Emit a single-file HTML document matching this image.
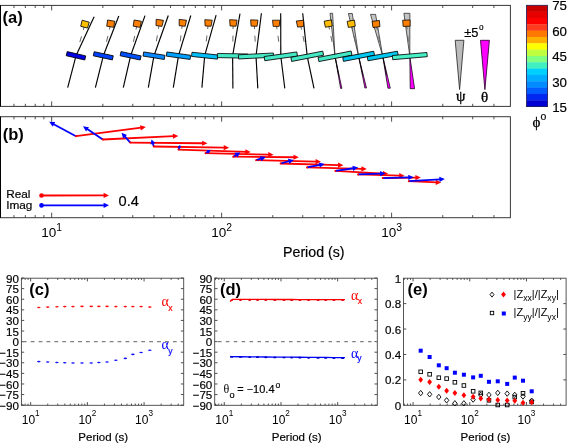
<!DOCTYPE html><html><head><meta charset="utf-8"><style>html,body{margin:0;padding:0;background:#fff;}svg{display:block;will-change:transform;}</style></head><body><svg width="567" height="444" viewBox="0 0 567 444" font-family="Liberation Sans, sans-serif">
<rect x="0" y="0" width="567" height="444" fill="#fff"/>
<g id="panelA">
<polygon points="335.00,56.30 330.00,13.30 332.60,13.30" fill="#c4c4c4" stroke="#1a1a1a" stroke-width="0.7" stroke-linejoin="round"/>
<polygon points="335.00,56.30 340.60,88.40 341.90,88.40" fill="#ff00ff" stroke="#000000" stroke-width="0.7" stroke-linejoin="round"/>
<line x1="335.00" y1="56.30" x2="338.75" y2="75.56" stroke="#000" stroke-width="0.75" />
<polygon points="358.60,56.30 348.40,13.50 352.30,13.50" fill="#c4c4c4" stroke="#1a1a1a" stroke-width="0.7" stroke-linejoin="round"/>
<polygon points="358.60,56.30 364.90,88.00 366.50,88.00" fill="#ff00ff" stroke="#000000" stroke-width="0.7" stroke-linejoin="round"/>
<line x1="358.60" y1="56.30" x2="362.86" y2="75.32" stroke="#000" stroke-width="0.75" />
<polygon points="382.70,56.00 370.50,14.40 375.60,14.40" fill="#c4c4c4" stroke="#1a1a1a" stroke-width="0.7" stroke-linejoin="round"/>
<polygon points="382.70,56.00 387.90,88.20 390.30,88.20" fill="#ff00ff" stroke="#000000" stroke-width="0.7" stroke-linejoin="round"/>
<line x1="382.70" y1="56.00" x2="386.54" y2="75.32" stroke="#000" stroke-width="0.75" />
<polygon points="409.80,56.10 403.90,13.30 409.90,13.30" fill="#c4c4c4" stroke="#1a1a1a" stroke-width="0.7" stroke-linejoin="round"/>
<polygon points="409.80,56.10 410.20,88.70 414.60,88.70" fill="#ff00ff" stroke="#000000" stroke-width="0.7" stroke-linejoin="round"/>
<line x1="84.90" y1="24.20" x2="79.55" y2="43.20" stroke="#666" stroke-width="1.0" stroke-dasharray="6 6.6"/>
<line x1="76.00" y1="55.80" x2="94.10" y2="16.70" stroke="#000" stroke-width="1.15" />
<line x1="76.00" y1="55.80" x2="67.70" y2="87.70" stroke="#000" stroke-width="1.15" />
<line x1="110.70" y1="23.70" x2="106.20" y2="43.20" stroke="#666" stroke-width="1.0" stroke-dasharray="6 6.6"/>
<line x1="103.30" y1="55.80" x2="118.80" y2="16.00" stroke="#000" stroke-width="1.15" />
<line x1="103.30" y1="55.80" x2="95.40" y2="87.70" stroke="#000" stroke-width="1.15" />
<line x1="137.20" y1="23.70" x2="133.19" y2="43.20" stroke="#666" stroke-width="1.0" stroke-dasharray="6 6.6"/>
<line x1="130.60" y1="55.80" x2="145.00" y2="15.60" stroke="#000" stroke-width="1.15" />
<line x1="130.60" y1="55.80" x2="123.30" y2="87.70" stroke="#000" stroke-width="1.15" />
<line x1="159.40" y1="22.90" x2="156.06" y2="43.20" stroke="#666" stroke-width="1.0" stroke-dasharray="6 6.6"/>
<line x1="154.00" y1="55.70" x2="168.30" y2="15.50" stroke="#000" stroke-width="1.15" />
<line x1="154.00" y1="55.70" x2="148.30" y2="87.60" stroke="#000" stroke-width="1.15" />
<line x1="182.50" y1="22.90" x2="180.02" y2="43.20" stroke="#666" stroke-width="1.0" stroke-dasharray="6 6.6"/>
<line x1="178.50" y1="55.70" x2="190.80" y2="15.50" stroke="#000" stroke-width="1.15" />
<line x1="178.50" y1="55.70" x2="173.30" y2="87.60" stroke="#000" stroke-width="1.15" />
<line x1="208.30" y1="23.00" x2="206.08" y2="43.20" stroke="#666" stroke-width="1.0" stroke-dasharray="6 6.6"/>
<line x1="204.70" y1="55.70" x2="216.10" y2="15.20" stroke="#000" stroke-width="1.15" />
<line x1="204.70" y1="55.70" x2="201.90" y2="87.60" stroke="#000" stroke-width="1.15" />
<line x1="233.20" y1="23.00" x2="232.83" y2="43.20" stroke="#666" stroke-width="1.0" stroke-dasharray="6 6.6"/>
<line x1="232.60" y1="55.80" x2="240.00" y2="13.70" stroke="#000" stroke-width="1.15" />
<line x1="232.60" y1="55.80" x2="232.90" y2="88.40" stroke="#000" stroke-width="1.15" />
<line x1="254.20" y1="23.10" x2="255.30" y2="43.20" stroke="#666" stroke-width="1.0" stroke-dasharray="6 6.6"/>
<line x1="256.00" y1="56.00" x2="261.40" y2="13.30" stroke="#000" stroke-width="1.15" />
<line x1="256.00" y1="56.00" x2="257.80" y2="88.40" stroke="#000" stroke-width="1.15" />
<line x1="276.20" y1="23.30" x2="278.97" y2="43.20" stroke="#666" stroke-width="1.0" stroke-dasharray="6 6.6"/>
<line x1="280.80" y1="56.30" x2="280.70" y2="13.30" stroke="#000" stroke-width="1.15" />
<line x1="280.80" y1="56.30" x2="284.80" y2="88.40" stroke="#000" stroke-width="1.15" />
<line x1="300.30" y1="23.70" x2="304.43" y2="43.20" stroke="#666" stroke-width="1.0" stroke-dasharray="6 6.6"/>
<line x1="307.20" y1="56.30" x2="302.70" y2="13.30" stroke="#000" stroke-width="1.15" />
<line x1="307.20" y1="56.30" x2="314.00" y2="88.40" stroke="#000" stroke-width="1.15" />
<line x1="328.30" y1="23.60" x2="332.32" y2="43.20" stroke="#666" stroke-width="1.0" stroke-dasharray="6 6.6"/>
<line x1="351.30" y1="23.80" x2="355.66" y2="43.20" stroke="#666" stroke-width="1.0" stroke-dasharray="6 6.6"/>
<line x1="376.10" y1="24.00" x2="380.06" y2="43.20" stroke="#666" stroke-width="1.0" stroke-dasharray="6 6.6"/>
<line x1="406.50" y1="23.20" x2="408.51" y2="43.20" stroke="#666" stroke-width="1.0" stroke-dasharray="6 6.6"/>
<rect x="-9.50" y="-2.1" width="19.00" height="4.2" fill="#0000e6" stroke="#000" stroke-width="0.8" transform="translate(76.00,55.80) rotate(13)"/>
<rect x="-9.75" y="-2.1" width="19.50" height="4.2" fill="#0040ff" stroke="#000" stroke-width="0.8" transform="translate(103.30,55.80) rotate(12)"/>
<rect x="-10.25" y="-2.1" width="20.50" height="4.2" fill="#0050ff" stroke="#000" stroke-width="0.8" transform="translate(130.60,55.80) rotate(12)"/>
<rect x="-10.75" y="-2.1" width="21.50" height="4.2" fill="#0a88ff" stroke="#000" stroke-width="0.8" transform="translate(154.00,55.70) rotate(9)"/>
<rect x="-12.00" y="-2.1" width="24.00" height="4.2" fill="#00a0ff" stroke="#000" stroke-width="0.8" transform="translate(178.50,55.70) rotate(8)"/>
<rect x="-13.00" y="-2.1" width="26.00" height="4.2" fill="#00bff8" stroke="#000" stroke-width="0.8" transform="translate(204.70,55.70) rotate(6)"/>
<rect x="-15.20" y="-2.1" width="30.40" height="4.2" fill="#44e8c4" stroke="#000" stroke-width="0.8" transform="translate(232.60,55.80) rotate(1)"/>
<rect x="-17.50" y="-2.1" width="35.00" height="4.2" fill="#44e8c4" stroke="#000" stroke-width="0.8" transform="translate(256.00,56.00) rotate(-3)"/>
<rect x="-16.50" y="-2.1" width="33.00" height="4.2" fill="#44e8c4" stroke="#000" stroke-width="0.8" transform="translate(280.80,56.30) rotate(-8)"/>
<rect x="-16.25" y="-2.1" width="32.50" height="4.2" fill="#44e8c4" stroke="#000" stroke-width="0.8" transform="translate(307.20,56.30) rotate(-11)"/>
<rect x="-16.85" y="-2.1" width="33.70" height="4.2" fill="#44e8c4" stroke="#000" stroke-width="0.8" transform="translate(335.00,56.30) rotate(-11)"/>
<rect x="-15.80" y="-2.1" width="31.60" height="4.2" fill="#00c8f0" stroke="#000" stroke-width="0.8" transform="translate(358.60,56.30) rotate(-11)"/>
<rect x="-15.35" y="-2.1" width="30.70" height="4.2" fill="#00c8f0" stroke="#000" stroke-width="0.8" transform="translate(382.70,56.00) rotate(-10.3)"/>
<rect x="-17.35" y="-2.1" width="34.70" height="4.2" fill="#48f0c8" stroke="#000" stroke-width="0.8" transform="translate(409.80,56.10) rotate(-5)"/>
<polygon points="-3.7,-3.1 3.7,-3.1 3.5,3.1 -3.5,3.1" fill="#ffc000" stroke="#000" stroke-width="0.75" transform="translate(84.90,24.20) rotate(15)"/>
<polygon points="-3.7,-3.1 3.7,-3.1 3.5,3.1 -3.5,3.1" fill="#ff8000" stroke="#000" stroke-width="0.75" transform="translate(110.70,23.70) rotate(10)"/>
<polygon points="-3.7,-3.1 3.7,-3.1 3.5,3.1 -3.5,3.1" fill="#ff8000" stroke="#000" stroke-width="0.75" transform="translate(137.20,23.70) rotate(10)"/>
<polygon points="-3.7,-3.1 3.7,-3.1 3.0,3.1 -3.0,3.1" fill="#ff8000" stroke="#000" stroke-width="0.75" transform="translate(159.40,22.90) rotate(8)"/>
<polygon points="-3.7,-3.1 3.7,-3.1 3.0,3.1 -3.0,3.1" fill="#ff8000" stroke="#000" stroke-width="0.75" transform="translate(182.50,22.90) rotate(6)"/>
<polygon points="-3.7,-3.1 3.7,-3.1 3.0,3.1 -3.0,3.1" fill="#ff8000" stroke="#000" stroke-width="0.75" transform="translate(208.30,23.00) rotate(4)"/>
<polygon points="-3.7,-3.1 3.7,-3.1 3.0,3.1 -3.0,3.1" fill="#ff8000" stroke="#000" stroke-width="0.75" transform="translate(233.20,23.00) rotate(3)"/>
<polygon points="-3.7,-3.1 3.7,-3.1 3.0,3.1 -3.0,3.1" fill="#ff8000" stroke="#000" stroke-width="0.75" transform="translate(254.20,23.10) rotate(2)"/>
<polygon points="-3.7,-3.1 3.7,-3.1 3.0,3.1 -3.0,3.1" fill="#ff8000" stroke="#000" stroke-width="0.75" transform="translate(276.20,23.30) rotate(0)"/>
<polygon points="-3.7,-3.1 3.7,-3.1 3.0,3.1 -3.0,3.1" fill="#ff8000" stroke="#000" stroke-width="0.75" transform="translate(300.30,23.70) rotate(-6)"/>
<polygon points="-3.7,-3.1 3.7,-3.1 3.5,3.1 -3.5,3.1" fill="#ffbc00" stroke="#000" stroke-width="0.75" transform="translate(328.30,23.60) rotate(-10)"/>
<polygon points="-3.7,-3.1 3.7,-3.1 3.5,3.1 -3.5,3.1" fill="#ffbc00" stroke="#000" stroke-width="0.75" transform="translate(351.30,23.80) rotate(-10)"/>
<polygon points="-3.7,-3.1 3.7,-3.1 3.5,3.1 -3.5,3.1" fill="#ff8000" stroke="#000" stroke-width="0.75" transform="translate(376.10,24.00) rotate(-7)"/>
<polygon points="-3.7,-3.1 3.7,-3.1 3.5,3.1 -3.5,3.1" fill="#ff8000" stroke="#000" stroke-width="0.75" transform="translate(406.50,23.20) rotate(-2)"/>
</g>
<polygon points="459.60,89.60 455.20,40.30 463.90,40.30" fill="#bcbcbc" stroke="#2a2a2a" stroke-width="0.85" />
<polygon points="484.90,89.60 480.50,40.30 489.40,40.30" fill="#ff00ff" stroke="#300030" stroke-width="0.85" />
<text x="464.20" y="36.60" font-size="12.8" text-anchor="start" fill="#000" font-weight="normal" stroke="#000" stroke-width="0.18" >±5</text>
<text x="478.90" y="30.30" font-size="8.2" text-anchor="start" fill="#000" font-weight="normal" stroke="#000" stroke-width="0.18" >o</text>
<text x="460.60" y="100.60" font-size="15" text-anchor="middle" fill="#000" font-weight="normal"  font-family="Liberation Serif, serif" stroke="#000" stroke-width="0.35">ψ</text>
<text x="484.50" y="101.90" font-size="15" text-anchor="middle" fill="#000" font-weight="normal"  font-family="Liberation Serif, serif" stroke="#000" stroke-width="0.35">θ</text>
<line x1="13.96" y1="106.40" x2="13.96" y2="103.80" stroke="#222" stroke-width="0.8" />
<line x1="13.96" y1="5.40" x2="13.96" y2="8.00" stroke="#222" stroke-width="0.8" />
<line x1="25.34" y1="106.40" x2="25.34" y2="103.80" stroke="#222" stroke-width="0.8" />
<line x1="25.34" y1="5.40" x2="25.34" y2="8.00" stroke="#222" stroke-width="0.8" />
<line x1="35.19" y1="106.40" x2="35.19" y2="103.80" stroke="#222" stroke-width="0.8" />
<line x1="35.19" y1="5.40" x2="35.19" y2="8.00" stroke="#222" stroke-width="0.8" />
<line x1="43.89" y1="106.40" x2="43.89" y2="103.80" stroke="#222" stroke-width="0.8" />
<line x1="43.89" y1="5.40" x2="43.89" y2="8.00" stroke="#222" stroke-width="0.8" />
<line x1="51.67" y1="106.40" x2="51.67" y2="101.40" stroke="#222" stroke-width="0.8" />
<line x1="51.67" y1="5.40" x2="51.67" y2="10.40" stroke="#222" stroke-width="0.8" />
<line x1="102.83" y1="106.40" x2="102.83" y2="103.80" stroke="#222" stroke-width="0.8" />
<line x1="102.83" y1="5.40" x2="102.83" y2="8.00" stroke="#222" stroke-width="0.8" />
<line x1="132.76" y1="106.40" x2="132.76" y2="103.80" stroke="#222" stroke-width="0.8" />
<line x1="132.76" y1="5.40" x2="132.76" y2="8.00" stroke="#222" stroke-width="0.8" />
<line x1="154.00" y1="106.40" x2="154.00" y2="103.80" stroke="#222" stroke-width="0.8" />
<line x1="154.00" y1="5.40" x2="154.00" y2="8.00" stroke="#222" stroke-width="0.8" />
<line x1="170.47" y1="106.40" x2="170.47" y2="103.80" stroke="#222" stroke-width="0.8" />
<line x1="170.47" y1="5.40" x2="170.47" y2="8.00" stroke="#222" stroke-width="0.8" />
<line x1="183.92" y1="106.40" x2="183.92" y2="103.80" stroke="#222" stroke-width="0.8" />
<line x1="183.92" y1="5.40" x2="183.92" y2="8.00" stroke="#222" stroke-width="0.8" />
<line x1="195.30" y1="106.40" x2="195.30" y2="103.80" stroke="#222" stroke-width="0.8" />
<line x1="195.30" y1="5.40" x2="195.30" y2="8.00" stroke="#222" stroke-width="0.8" />
<line x1="205.16" y1="106.40" x2="205.16" y2="103.80" stroke="#222" stroke-width="0.8" />
<line x1="205.16" y1="5.40" x2="205.16" y2="8.00" stroke="#222" stroke-width="0.8" />
<line x1="213.85" y1="106.40" x2="213.85" y2="103.80" stroke="#222" stroke-width="0.8" />
<line x1="213.85" y1="5.40" x2="213.85" y2="8.00" stroke="#222" stroke-width="0.8" />
<line x1="221.63" y1="106.40" x2="221.63" y2="101.40" stroke="#222" stroke-width="0.8" />
<line x1="221.63" y1="5.40" x2="221.63" y2="10.40" stroke="#222" stroke-width="0.8" />
<line x1="272.80" y1="106.40" x2="272.80" y2="103.80" stroke="#222" stroke-width="0.8" />
<line x1="272.80" y1="5.40" x2="272.80" y2="8.00" stroke="#222" stroke-width="0.8" />
<line x1="302.73" y1="106.40" x2="302.73" y2="103.80" stroke="#222" stroke-width="0.8" />
<line x1="302.73" y1="5.40" x2="302.73" y2="8.00" stroke="#222" stroke-width="0.8" />
<line x1="323.96" y1="106.40" x2="323.96" y2="103.80" stroke="#222" stroke-width="0.8" />
<line x1="323.96" y1="5.40" x2="323.96" y2="8.00" stroke="#222" stroke-width="0.8" />
<line x1="340.43" y1="106.40" x2="340.43" y2="103.80" stroke="#222" stroke-width="0.8" />
<line x1="340.43" y1="5.40" x2="340.43" y2="8.00" stroke="#222" stroke-width="0.8" />
<line x1="353.89" y1="106.40" x2="353.89" y2="103.80" stroke="#222" stroke-width="0.8" />
<line x1="353.89" y1="5.40" x2="353.89" y2="8.00" stroke="#222" stroke-width="0.8" />
<line x1="365.27" y1="106.40" x2="365.27" y2="103.80" stroke="#222" stroke-width="0.8" />
<line x1="365.27" y1="5.40" x2="365.27" y2="8.00" stroke="#222" stroke-width="0.8" />
<line x1="375.13" y1="106.40" x2="375.13" y2="103.80" stroke="#222" stroke-width="0.8" />
<line x1="375.13" y1="5.40" x2="375.13" y2="8.00" stroke="#222" stroke-width="0.8" />
<line x1="383.82" y1="106.40" x2="383.82" y2="103.80" stroke="#222" stroke-width="0.8" />
<line x1="383.82" y1="5.40" x2="383.82" y2="8.00" stroke="#222" stroke-width="0.8" />
<line x1="391.60" y1="106.40" x2="391.60" y2="101.40" stroke="#222" stroke-width="0.8" />
<line x1="391.60" y1="5.40" x2="391.60" y2="10.40" stroke="#222" stroke-width="0.8" />
<line x1="442.76" y1="106.40" x2="442.76" y2="103.80" stroke="#222" stroke-width="0.8" />
<line x1="442.76" y1="5.40" x2="442.76" y2="8.00" stroke="#222" stroke-width="0.8" />
<line x1="472.69" y1="106.40" x2="472.69" y2="103.80" stroke="#222" stroke-width="0.8" />
<line x1="472.69" y1="5.40" x2="472.69" y2="8.00" stroke="#222" stroke-width="0.8" />
<line x1="493.93" y1="106.40" x2="493.93" y2="103.80" stroke="#222" stroke-width="0.8" />
<line x1="493.93" y1="5.40" x2="493.93" y2="8.00" stroke="#222" stroke-width="0.8" />
<rect x="0.50" y="5.40" width="509.90" height="101.00" fill="none" stroke="#383838" stroke-width="1.0" />
<line x1="13.96" y1="217.70" x2="13.96" y2="215.10" stroke="#222" stroke-width="0.8" />
<line x1="13.96" y1="116.70" x2="13.96" y2="119.30" stroke="#222" stroke-width="0.8" />
<line x1="25.34" y1="217.70" x2="25.34" y2="215.10" stroke="#222" stroke-width="0.8" />
<line x1="25.34" y1="116.70" x2="25.34" y2="119.30" stroke="#222" stroke-width="0.8" />
<line x1="35.19" y1="217.70" x2="35.19" y2="215.10" stroke="#222" stroke-width="0.8" />
<line x1="35.19" y1="116.70" x2="35.19" y2="119.30" stroke="#222" stroke-width="0.8" />
<line x1="43.89" y1="217.70" x2="43.89" y2="215.10" stroke="#222" stroke-width="0.8" />
<line x1="43.89" y1="116.70" x2="43.89" y2="119.30" stroke="#222" stroke-width="0.8" />
<line x1="51.67" y1="217.70" x2="51.67" y2="212.70" stroke="#222" stroke-width="0.8" />
<line x1="51.67" y1="116.70" x2="51.67" y2="121.70" stroke="#222" stroke-width="0.8" />
<line x1="102.83" y1="217.70" x2="102.83" y2="215.10" stroke="#222" stroke-width="0.8" />
<line x1="102.83" y1="116.70" x2="102.83" y2="119.30" stroke="#222" stroke-width="0.8" />
<line x1="132.76" y1="217.70" x2="132.76" y2="215.10" stroke="#222" stroke-width="0.8" />
<line x1="132.76" y1="116.70" x2="132.76" y2="119.30" stroke="#222" stroke-width="0.8" />
<line x1="154.00" y1="217.70" x2="154.00" y2="215.10" stroke="#222" stroke-width="0.8" />
<line x1="154.00" y1="116.70" x2="154.00" y2="119.30" stroke="#222" stroke-width="0.8" />
<line x1="170.47" y1="217.70" x2="170.47" y2="215.10" stroke="#222" stroke-width="0.8" />
<line x1="170.47" y1="116.70" x2="170.47" y2="119.30" stroke="#222" stroke-width="0.8" />
<line x1="183.92" y1="217.70" x2="183.92" y2="215.10" stroke="#222" stroke-width="0.8" />
<line x1="183.92" y1="116.70" x2="183.92" y2="119.30" stroke="#222" stroke-width="0.8" />
<line x1="195.30" y1="217.70" x2="195.30" y2="215.10" stroke="#222" stroke-width="0.8" />
<line x1="195.30" y1="116.70" x2="195.30" y2="119.30" stroke="#222" stroke-width="0.8" />
<line x1="205.16" y1="217.70" x2="205.16" y2="215.10" stroke="#222" stroke-width="0.8" />
<line x1="205.16" y1="116.70" x2="205.16" y2="119.30" stroke="#222" stroke-width="0.8" />
<line x1="213.85" y1="217.70" x2="213.85" y2="215.10" stroke="#222" stroke-width="0.8" />
<line x1="213.85" y1="116.70" x2="213.85" y2="119.30" stroke="#222" stroke-width="0.8" />
<line x1="221.63" y1="217.70" x2="221.63" y2="212.70" stroke="#222" stroke-width="0.8" />
<line x1="221.63" y1="116.70" x2="221.63" y2="121.70" stroke="#222" stroke-width="0.8" />
<line x1="272.80" y1="217.70" x2="272.80" y2="215.10" stroke="#222" stroke-width="0.8" />
<line x1="272.80" y1="116.70" x2="272.80" y2="119.30" stroke="#222" stroke-width="0.8" />
<line x1="302.73" y1="217.70" x2="302.73" y2="215.10" stroke="#222" stroke-width="0.8" />
<line x1="302.73" y1="116.70" x2="302.73" y2="119.30" stroke="#222" stroke-width="0.8" />
<line x1="323.96" y1="217.70" x2="323.96" y2="215.10" stroke="#222" stroke-width="0.8" />
<line x1="323.96" y1="116.70" x2="323.96" y2="119.30" stroke="#222" stroke-width="0.8" />
<line x1="340.43" y1="217.70" x2="340.43" y2="215.10" stroke="#222" stroke-width="0.8" />
<line x1="340.43" y1="116.70" x2="340.43" y2="119.30" stroke="#222" stroke-width="0.8" />
<line x1="353.89" y1="217.70" x2="353.89" y2="215.10" stroke="#222" stroke-width="0.8" />
<line x1="353.89" y1="116.70" x2="353.89" y2="119.30" stroke="#222" stroke-width="0.8" />
<line x1="365.27" y1="217.70" x2="365.27" y2="215.10" stroke="#222" stroke-width="0.8" />
<line x1="365.27" y1="116.70" x2="365.27" y2="119.30" stroke="#222" stroke-width="0.8" />
<line x1="375.13" y1="217.70" x2="375.13" y2="215.10" stroke="#222" stroke-width="0.8" />
<line x1="375.13" y1="116.70" x2="375.13" y2="119.30" stroke="#222" stroke-width="0.8" />
<line x1="383.82" y1="217.70" x2="383.82" y2="215.10" stroke="#222" stroke-width="0.8" />
<line x1="383.82" y1="116.70" x2="383.82" y2="119.30" stroke="#222" stroke-width="0.8" />
<line x1="391.60" y1="217.70" x2="391.60" y2="212.70" stroke="#222" stroke-width="0.8" />
<line x1="391.60" y1="116.70" x2="391.60" y2="121.70" stroke="#222" stroke-width="0.8" />
<line x1="442.76" y1="217.70" x2="442.76" y2="215.10" stroke="#222" stroke-width="0.8" />
<line x1="442.76" y1="116.70" x2="442.76" y2="119.30" stroke="#222" stroke-width="0.8" />
<line x1="472.69" y1="217.70" x2="472.69" y2="215.10" stroke="#222" stroke-width="0.8" />
<line x1="472.69" y1="116.70" x2="472.69" y2="119.30" stroke="#222" stroke-width="0.8" />
<line x1="493.93" y1="217.70" x2="493.93" y2="215.10" stroke="#222" stroke-width="0.8" />
<line x1="493.93" y1="116.70" x2="493.93" y2="119.30" stroke="#222" stroke-width="0.8" />
<rect x="0.50" y="116.70" width="509.90" height="101.00" fill="none" stroke="#383838" stroke-width="1.0" />
<line x1="0.50" y1="5.40" x2="0.50" y2="106.40" stroke="#000" stroke-width="1.0" />
<line x1="0.50" y1="116.70" x2="0.50" y2="217.70" stroke="#000" stroke-width="1.0" />
<text x="2.60" y="22.50" font-size="16.5" text-anchor="start" fill="#000" font-weight="bold"  >(a)</text>
<text x="2.80" y="140.20" font-size="16.5" text-anchor="start" fill="#000" font-weight="bold"  >(b)</text>
<text x="51.67" y="237.00" font-size="13.5" text-anchor="middle">10<tspan font-size="10.3" dy="-6.1">1</tspan></text>
<text x="221.63" y="237.00" font-size="13.5" text-anchor="middle">10<tspan font-size="10.3" dy="-6.1">2</tspan></text>
<text x="391.60" y="237.00" font-size="13.5" text-anchor="middle">10<tspan font-size="10.3" dy="-6.1">3</tspan></text>
<text x="313.80" y="256.90" font-size="14.2" text-anchor="middle" fill="#000" font-weight="normal" stroke="#000" stroke-width="0.18" >Period (s)</text>
<rect x="526.6" y="5.30" width="21.00" height="6.63" fill="#c80000"/>
<rect x="526.6" y="11.63" width="21.00" height="6.63" fill="#e60000"/>
<rect x="526.6" y="17.96" width="21.00" height="6.63" fill="#ff0000"/>
<rect x="526.6" y="24.29" width="21.00" height="6.63" fill="#ff3c20"/>
<rect x="526.6" y="30.62" width="21.00" height="6.63" fill="#ff7800"/>
<rect x="526.6" y="36.96" width="21.00" height="6.63" fill="#ffb000"/>
<rect x="526.6" y="43.29" width="21.00" height="6.63" fill="#ffff00"/>
<rect x="526.6" y="49.62" width="21.00" height="6.63" fill="#c0ff40"/>
<rect x="526.6" y="55.95" width="21.00" height="6.63" fill="#80ff80"/>
<rect x="526.6" y="62.28" width="21.00" height="6.63" fill="#40f0c0"/>
<rect x="526.6" y="68.61" width="21.00" height="6.63" fill="#00d0ff"/>
<rect x="526.6" y="74.94" width="21.00" height="6.63" fill="#00acff"/>
<rect x="526.6" y="81.27" width="21.00" height="6.63" fill="#008cff"/>
<rect x="526.6" y="87.61" width="21.00" height="6.63" fill="#005cff"/>
<rect x="526.6" y="93.94" width="21.00" height="6.63" fill="#0026f0"/>
<rect x="526.6" y="100.27" width="21.00" height="6.63" fill="#0000d0"/>
<rect x="526.60" y="5.30" width="21.00" height="101.30" fill="none" stroke="#1a1a50" stroke-width="0.8" />
<text x="552.20" y="10.05" font-size="13.3" text-anchor="start" fill="#000" font-weight="normal" stroke="#000" stroke-width="0.18" >75</text>
<text x="552.20" y="35.75" font-size="13.3" text-anchor="start" fill="#000" font-weight="normal" stroke="#000" stroke-width="0.18" >60</text>
<text x="552.20" y="61.35" font-size="13.3" text-anchor="start" fill="#000" font-weight="normal" stroke="#000" stroke-width="0.18" >45</text>
<text x="552.20" y="86.75" font-size="13.3" text-anchor="start" fill="#000" font-weight="normal" stroke="#000" stroke-width="0.18" >30</text>
<text x="552.20" y="112.15" font-size="13.3" text-anchor="start" fill="#000" font-weight="normal" stroke="#000" stroke-width="0.18" >15</text>
<text x="536.50" y="126.60" font-size="15" text-anchor="middle" fill="#000" font-weight="normal"  font-family="Liberation Serif, serif" stroke="#000" stroke-width="0.3">ϕ</text>
<text x="540.40" y="119.60" font-size="10.5" text-anchor="start" fill="#000" font-weight="normal" stroke="#000" stroke-width="0.18" >o</text>
<line x1="76.00" y1="136.20" x2="141.24" y2="127.69" stroke="#ff0000" stroke-width="1.8" />
<polygon points="145.80,127.10 140.78,130.38 140.11,125.22" fill="#ff0000" stroke="none" stroke-width="1" />
<line x1="102.80" y1="139.50" x2="173.71" y2="136.12" stroke="#ff0000" stroke-width="1.8" />
<polygon points="178.30,135.90 173.03,138.75 172.78,133.56" fill="#ff0000" stroke="none" stroke-width="1" />
<line x1="130.30" y1="142.60" x2="202.90" y2="143.26" stroke="#ff0000" stroke-width="1.8" />
<polygon points="207.50,143.30 202.08,145.85 202.12,140.65" fill="#ff0000" stroke="none" stroke-width="1" />
<line x1="153.80" y1="146.50" x2="224.50" y2="147.63" stroke="#ff0000" stroke-width="1.8" />
<polygon points="229.10,147.70 223.66,150.21 223.74,145.01" fill="#ff0000" stroke="none" stroke-width="1" />
<line x1="178.50" y1="149.60" x2="246.10" y2="151.94" stroke="#ff0000" stroke-width="1.8" />
<polygon points="250.70,152.10 245.21,154.51 245.39,149.31" fill="#ff0000" stroke="none" stroke-width="1" />
<line x1="205.50" y1="153.20" x2="269.00" y2="154.69" stroke="#ff0000" stroke-width="1.8" />
<polygon points="273.60,154.80 268.14,157.27 268.26,152.07" fill="#ff0000" stroke="none" stroke-width="1" />
<line x1="233.20" y1="156.70" x2="294.30" y2="157.26" stroke="#ff0000" stroke-width="1.8" />
<polygon points="298.90,157.30 293.48,159.85 293.52,154.65" fill="#ff0000" stroke="none" stroke-width="1" />
<line x1="256.10" y1="160.20" x2="316.40" y2="161.69" stroke="#ff0000" stroke-width="1.8" />
<polygon points="321.00,161.80 315.54,164.27 315.67,159.07" fill="#ff0000" stroke="none" stroke-width="1" />
<line x1="280.60" y1="163.50" x2="338.80" y2="165.17" stroke="#ff0000" stroke-width="1.8" />
<polygon points="343.40,165.30 337.93,167.74 338.08,162.55" fill="#ff0000" stroke="none" stroke-width="1" />
<line x1="307.00" y1="167.40" x2="362.20" y2="168.97" stroke="#ff0000" stroke-width="1.8" />
<polygon points="366.80,169.10 361.33,171.55 361.48,166.35" fill="#ff0000" stroke="none" stroke-width="1" />
<line x1="335.30" y1="170.90" x2="383.71" y2="173.55" stroke="#ff0000" stroke-width="1.8" />
<polygon points="388.30,173.80 382.77,176.10 383.05,170.91" fill="#ff0000" stroke="none" stroke-width="1" />
<line x1="358.00" y1="174.40" x2="400.00" y2="175.66" stroke="#ff0000" stroke-width="1.8" />
<polygon points="404.60,175.80 399.12,178.24 399.28,173.04" fill="#ff0000" stroke="none" stroke-width="1" />
<line x1="382.70" y1="178.10" x2="416.20" y2="177.66" stroke="#ff0000" stroke-width="1.8" />
<polygon points="420.80,177.60 415.43,180.27 415.37,175.07" fill="#ff0000" stroke="none" stroke-width="1" />
<line x1="408.80" y1="181.20" x2="436.60" y2="182.40" stroke="#ff0000" stroke-width="1.8" />
<polygon points="441.20,182.60 435.69,184.96 435.92,179.77" fill="#ff0000" stroke="none" stroke-width="1" />
<line x1="76.00" y1="136.20" x2="53.25" y2="123.98" stroke="#0000ff" stroke-width="1.8" />
<polygon points="49.20,121.80 55.19,122.07 52.73,126.65" fill="#0000ff" stroke="none" stroke-width="1" />
<line x1="102.80" y1="139.50" x2="86.83" y2="128.85" stroke="#0000ff" stroke-width="1.8" />
<polygon points="83.00,126.30 88.94,127.13 86.05,131.46" fill="#0000ff" stroke="none" stroke-width="1" />
<line x1="130.30" y1="142.60" x2="124.56" y2="136.14" stroke="#0000ff" stroke-width="1.8" />
<polygon points="121.50,132.70 127.03,135.01 123.14,138.46" fill="#0000ff" stroke="none" stroke-width="1" />
<line x1="153.80" y1="146.50" x2="152.68" y2="143.04" stroke="#0000ff" stroke-width="1.8" />
<polygon points="151.50,139.40 155.35,143.02 150.50,144.59" fill="#0000ff" stroke="none" stroke-width="1" />
<line x1="178.50" y1="149.60" x2="179.41" y2="146.98" stroke="#0000ff" stroke-width="1.8" />
<polygon points="180.20,144.70 180.82,148.32 177.48,147.16" fill="#0000ff" stroke="none" stroke-width="1" />
<line x1="205.50" y1="153.20" x2="208.20" y2="151.57" stroke="#0000ff" stroke-width="1.8" />
<polygon points="210.80,150.00 208.61,153.79 206.42,150.18" fill="#0000ff" stroke="none" stroke-width="1" />
<line x1="233.20" y1="156.70" x2="236.59" y2="154.74" stroke="#0000ff" stroke-width="1.8" />
<polygon points="240.30,152.60 237.30,157.56 234.50,152.72" fill="#0000ff" stroke="none" stroke-width="1" />
<line x1="256.10" y1="160.20" x2="261.43" y2="158.44" stroke="#0000ff" stroke-width="1.8" />
<polygon points="265.80,157.00 261.49,161.16 259.86,156.22" fill="#0000ff" stroke="none" stroke-width="1" />
<line x1="280.60" y1="163.50" x2="289.35" y2="161.18" stroke="#0000ff" stroke-width="1.8" />
<polygon points="293.80,160.00 289.25,163.90 287.91,158.87" fill="#0000ff" stroke="none" stroke-width="1" />
<line x1="307.00" y1="167.40" x2="320.18" y2="164.87" stroke="#0000ff" stroke-width="1.8" />
<polygon points="324.70,164.00 319.89,167.57 318.91,162.47" fill="#0000ff" stroke="none" stroke-width="1" />
<line x1="335.30" y1="170.90" x2="353.65" y2="168.26" stroke="#0000ff" stroke-width="1.8" />
<polygon points="358.20,167.60 353.23,170.94 352.48,165.80" fill="#0000ff" stroke="none" stroke-width="1" />
<line x1="358.00" y1="174.40" x2="380.90" y2="173.57" stroke="#0000ff" stroke-width="1.8" />
<polygon points="385.50,173.40 380.20,176.19 380.01,171.00" fill="#0000ff" stroke="none" stroke-width="1" />
<line x1="382.70" y1="178.10" x2="409.10" y2="177.33" stroke="#0000ff" stroke-width="1.8" />
<polygon points="413.70,177.20 408.38,179.96 408.23,174.76" fill="#0000ff" stroke="none" stroke-width="1" />
<line x1="408.80" y1="181.20" x2="440.21" y2="179.28" stroke="#0000ff" stroke-width="1.8" />
<polygon points="444.80,179.00 439.57,181.92 439.25,176.73" fill="#0000ff" stroke="none" stroke-width="1" />
<circle cx="76.0" cy="136.2" r="1.0" fill="#ff0000"/>
<circle cx="102.8" cy="139.5" r="1.0" fill="#ff0000"/>
<circle cx="130.3" cy="142.6" r="1.0" fill="#ff0000"/>
<circle cx="153.8" cy="146.5" r="1.0" fill="#ff0000"/>
<circle cx="178.5" cy="149.6" r="1.0" fill="#ff0000"/>
<circle cx="205.5" cy="153.2" r="1.0" fill="#ff0000"/>
<circle cx="233.2" cy="156.7" r="1.0" fill="#ff0000"/>
<circle cx="256.1" cy="160.2" r="1.0" fill="#ff0000"/>
<circle cx="280.6" cy="163.5" r="1.0" fill="#ff0000"/>
<circle cx="307.0" cy="167.4" r="1.0" fill="#ff0000"/>
<circle cx="335.3" cy="170.9" r="1.0" fill="#ff0000"/>
<circle cx="358.0" cy="174.4" r="1.0" fill="#ff0000"/>
<circle cx="382.7" cy="178.1" r="1.0" fill="#ff0000"/>
<circle cx="408.8" cy="181.2" r="1.0" fill="#ff0000"/>
<line x1="41.50" y1="195.50" x2="104.40" y2="195.41" stroke="#ff0000" stroke-width="1.8" />
<polygon points="109.00,195.40 103.60,198.01 103.60,192.81" fill="#ff0000" stroke="none" stroke-width="1" />
<line x1="41.50" y1="205.40" x2="104.40" y2="205.31" stroke="#0000ff" stroke-width="1.8" />
<polygon points="109.00,205.30 103.60,207.91 103.60,202.71" fill="#0000ff" stroke="none" stroke-width="1" />
<circle cx="41.5" cy="195.5" r="2.3" fill="#ff0000"/>
<circle cx="41.5" cy="205.4" r="2.3" fill="#0000ff"/>
<text x="6.20" y="197.60" font-size="11.8" text-anchor="start" fill="#000" font-weight="normal" stroke="#000" stroke-width="0.18" >Real</text>
<text x="6.20" y="208.70" font-size="11.8" text-anchor="start" fill="#000" font-weight="normal" stroke="#000" stroke-width="0.18" >Imag</text>
<text x="118.60" y="205.60" font-size="14.6" text-anchor="start" fill="#000" font-weight="normal" stroke="#000" stroke-width="0.18" >0.4</text>
<line x1="21.89" y1="405.30" x2="21.89" y2="403.60" stroke="#222" stroke-width="0.8" />
<line x1="21.89" y1="278.20" x2="21.89" y2="279.90" stroke="#222" stroke-width="0.8" />
<line x1="25.17" y1="405.30" x2="25.17" y2="403.60" stroke="#222" stroke-width="0.8" />
<line x1="25.17" y1="278.20" x2="25.17" y2="279.90" stroke="#222" stroke-width="0.8" />
<line x1="28.07" y1="405.30" x2="28.07" y2="403.60" stroke="#222" stroke-width="0.8" />
<line x1="28.07" y1="278.20" x2="28.07" y2="279.90" stroke="#222" stroke-width="0.8" />
<line x1="30.67" y1="405.30" x2="30.67" y2="402.10" stroke="#222" stroke-width="0.8" />
<line x1="30.67" y1="278.20" x2="30.67" y2="281.40" stroke="#222" stroke-width="0.8" />
<line x1="47.74" y1="405.30" x2="47.74" y2="403.60" stroke="#222" stroke-width="0.8" />
<line x1="47.74" y1="278.20" x2="47.74" y2="279.90" stroke="#222" stroke-width="0.8" />
<line x1="57.72" y1="405.30" x2="57.72" y2="403.60" stroke="#222" stroke-width="0.8" />
<line x1="57.72" y1="278.20" x2="57.72" y2="279.90" stroke="#222" stroke-width="0.8" />
<line x1="64.81" y1="405.30" x2="64.81" y2="403.60" stroke="#222" stroke-width="0.8" />
<line x1="64.81" y1="278.20" x2="64.81" y2="279.90" stroke="#222" stroke-width="0.8" />
<line x1="70.30" y1="405.30" x2="70.30" y2="403.60" stroke="#222" stroke-width="0.8" />
<line x1="70.30" y1="278.20" x2="70.30" y2="279.90" stroke="#222" stroke-width="0.8" />
<line x1="74.79" y1="405.30" x2="74.79" y2="403.60" stroke="#222" stroke-width="0.8" />
<line x1="74.79" y1="278.20" x2="74.79" y2="279.90" stroke="#222" stroke-width="0.8" />
<line x1="78.59" y1="405.30" x2="78.59" y2="403.60" stroke="#222" stroke-width="0.8" />
<line x1="78.59" y1="278.20" x2="78.59" y2="279.90" stroke="#222" stroke-width="0.8" />
<line x1="81.87" y1="405.30" x2="81.87" y2="403.60" stroke="#222" stroke-width="0.8" />
<line x1="81.87" y1="278.20" x2="81.87" y2="279.90" stroke="#222" stroke-width="0.8" />
<line x1="84.77" y1="405.30" x2="84.77" y2="403.60" stroke="#222" stroke-width="0.8" />
<line x1="84.77" y1="278.20" x2="84.77" y2="279.90" stroke="#222" stroke-width="0.8" />
<line x1="87.37" y1="405.30" x2="87.37" y2="402.10" stroke="#222" stroke-width="0.8" />
<line x1="87.37" y1="278.20" x2="87.37" y2="281.40" stroke="#222" stroke-width="0.8" />
<line x1="104.44" y1="405.30" x2="104.44" y2="403.60" stroke="#222" stroke-width="0.8" />
<line x1="104.44" y1="278.20" x2="104.44" y2="279.90" stroke="#222" stroke-width="0.8" />
<line x1="114.42" y1="405.30" x2="114.42" y2="403.60" stroke="#222" stroke-width="0.8" />
<line x1="114.42" y1="278.20" x2="114.42" y2="279.90" stroke="#222" stroke-width="0.8" />
<line x1="121.51" y1="405.30" x2="121.51" y2="403.60" stroke="#222" stroke-width="0.8" />
<line x1="121.51" y1="278.20" x2="121.51" y2="279.90" stroke="#222" stroke-width="0.8" />
<line x1="127.00" y1="405.30" x2="127.00" y2="403.60" stroke="#222" stroke-width="0.8" />
<line x1="127.00" y1="278.20" x2="127.00" y2="279.90" stroke="#222" stroke-width="0.8" />
<line x1="131.49" y1="405.30" x2="131.49" y2="403.60" stroke="#222" stroke-width="0.8" />
<line x1="131.49" y1="278.20" x2="131.49" y2="279.90" stroke="#222" stroke-width="0.8" />
<line x1="135.29" y1="405.30" x2="135.29" y2="403.60" stroke="#222" stroke-width="0.8" />
<line x1="135.29" y1="278.20" x2="135.29" y2="279.90" stroke="#222" stroke-width="0.8" />
<line x1="138.57" y1="405.30" x2="138.57" y2="403.60" stroke="#222" stroke-width="0.8" />
<line x1="138.57" y1="278.20" x2="138.57" y2="279.90" stroke="#222" stroke-width="0.8" />
<line x1="141.47" y1="405.30" x2="141.47" y2="403.60" stroke="#222" stroke-width="0.8" />
<line x1="141.47" y1="278.20" x2="141.47" y2="279.90" stroke="#222" stroke-width="0.8" />
<line x1="144.07" y1="405.30" x2="144.07" y2="402.10" stroke="#222" stroke-width="0.8" />
<line x1="144.07" y1="278.20" x2="144.07" y2="281.40" stroke="#222" stroke-width="0.8" />
<line x1="161.14" y1="405.30" x2="161.14" y2="403.60" stroke="#222" stroke-width="0.8" />
<line x1="161.14" y1="278.20" x2="161.14" y2="279.90" stroke="#222" stroke-width="0.8" />
<line x1="171.12" y1="405.30" x2="171.12" y2="403.60" stroke="#222" stroke-width="0.8" />
<line x1="171.12" y1="278.20" x2="171.12" y2="279.90" stroke="#222" stroke-width="0.8" />
<line x1="178.21" y1="405.30" x2="178.21" y2="403.60" stroke="#222" stroke-width="0.8" />
<line x1="178.21" y1="278.20" x2="178.21" y2="279.90" stroke="#222" stroke-width="0.8" />
<line x1="21.40" y1="278.05" x2="24.20" y2="278.05" stroke="#222" stroke-width="0.8" />
<line x1="183.70" y1="278.05" x2="180.90" y2="278.05" stroke="#222" stroke-width="0.8" />
<line x1="21.40" y1="288.64" x2="24.20" y2="288.64" stroke="#222" stroke-width="0.8" />
<line x1="183.70" y1="288.64" x2="180.90" y2="288.64" stroke="#222" stroke-width="0.8" />
<line x1="21.40" y1="299.23" x2="24.20" y2="299.23" stroke="#222" stroke-width="0.8" />
<line x1="183.70" y1="299.23" x2="180.90" y2="299.23" stroke="#222" stroke-width="0.8" />
<line x1="21.40" y1="309.83" x2="24.20" y2="309.83" stroke="#222" stroke-width="0.8" />
<line x1="183.70" y1="309.83" x2="180.90" y2="309.83" stroke="#222" stroke-width="0.8" />
<line x1="21.40" y1="320.42" x2="24.20" y2="320.42" stroke="#222" stroke-width="0.8" />
<line x1="183.70" y1="320.42" x2="180.90" y2="320.42" stroke="#222" stroke-width="0.8" />
<line x1="21.40" y1="331.01" x2="24.20" y2="331.01" stroke="#222" stroke-width="0.8" />
<line x1="183.70" y1="331.01" x2="180.90" y2="331.01" stroke="#222" stroke-width="0.8" />
<line x1="21.40" y1="341.60" x2="24.20" y2="341.60" stroke="#222" stroke-width="0.8" />
<line x1="183.70" y1="341.60" x2="180.90" y2="341.60" stroke="#222" stroke-width="0.8" />
<line x1="21.40" y1="352.19" x2="24.20" y2="352.19" stroke="#222" stroke-width="0.8" />
<line x1="183.70" y1="352.19" x2="180.90" y2="352.19" stroke="#222" stroke-width="0.8" />
<line x1="21.40" y1="362.78" x2="24.20" y2="362.78" stroke="#222" stroke-width="0.8" />
<line x1="183.70" y1="362.78" x2="180.90" y2="362.78" stroke="#222" stroke-width="0.8" />
<line x1="21.40" y1="373.38" x2="24.20" y2="373.38" stroke="#222" stroke-width="0.8" />
<line x1="183.70" y1="373.38" x2="180.90" y2="373.38" stroke="#222" stroke-width="0.8" />
<line x1="21.40" y1="383.97" x2="24.20" y2="383.97" stroke="#222" stroke-width="0.8" />
<line x1="183.70" y1="383.97" x2="180.90" y2="383.97" stroke="#222" stroke-width="0.8" />
<line x1="21.40" y1="394.56" x2="24.20" y2="394.56" stroke="#222" stroke-width="0.8" />
<line x1="183.70" y1="394.56" x2="180.90" y2="394.56" stroke="#222" stroke-width="0.8" />
<line x1="21.40" y1="405.15" x2="24.20" y2="405.15" stroke="#222" stroke-width="0.8" />
<line x1="183.70" y1="405.15" x2="180.90" y2="405.15" stroke="#222" stroke-width="0.8" />
<rect x="21.40" y="278.20" width="162.30" height="127.10" fill="none" stroke="#444" stroke-width="0.9" />
<text x="19.00" y="282.65" font-size="11.6" text-anchor="end" fill="#000" font-weight="normal" stroke="#000" stroke-width="0.18" >90</text>
<text x="19.00" y="293.24" font-size="11.6" text-anchor="end" fill="#000" font-weight="normal" stroke="#000" stroke-width="0.18" >75</text>
<text x="19.00" y="303.83" font-size="11.6" text-anchor="end" fill="#000" font-weight="normal" stroke="#000" stroke-width="0.18" >60</text>
<text x="19.00" y="314.43" font-size="11.6" text-anchor="end" fill="#000" font-weight="normal" stroke="#000" stroke-width="0.18" >45</text>
<text x="19.00" y="325.02" font-size="11.6" text-anchor="end" fill="#000" font-weight="normal" stroke="#000" stroke-width="0.18" >30</text>
<text x="19.00" y="335.61" font-size="11.6" text-anchor="end" fill="#000" font-weight="normal" stroke="#000" stroke-width="0.18" >15</text>
<text x="19.00" y="346.20" font-size="11.6" text-anchor="end" fill="#000" font-weight="normal" stroke="#000" stroke-width="0.18" >0</text>
<text x="19.00" y="356.79" font-size="11.6" text-anchor="end" fill="#000" font-weight="normal" stroke="#000" stroke-width="0.18" >−15</text>
<text x="19.00" y="367.38" font-size="11.6" text-anchor="end" fill="#000" font-weight="normal" stroke="#000" stroke-width="0.18" >−30</text>
<text x="19.00" y="377.98" font-size="11.6" text-anchor="end" fill="#000" font-weight="normal" stroke="#000" stroke-width="0.18" >−45</text>
<text x="19.00" y="388.57" font-size="11.6" text-anchor="end" fill="#000" font-weight="normal" stroke="#000" stroke-width="0.18" >−60</text>
<text x="19.00" y="399.16" font-size="11.6" text-anchor="end" fill="#000" font-weight="normal" stroke="#000" stroke-width="0.18" >−75</text>
<text x="19.00" y="409.75" font-size="11.6" text-anchor="end" fill="#000" font-weight="normal" stroke="#000" stroke-width="0.18" >−90</text>
<text x="30.67" y="423.60" font-size="12.0" text-anchor="middle">10<tspan font-size="8.2" dy="-7.6">1</tspan></text>
<text x="87.37" y="423.60" font-size="12.0" text-anchor="middle">10<tspan font-size="8.2" dy="-7.6">2</tspan></text>
<text x="144.07" y="423.60" font-size="12.0" text-anchor="middle">10<tspan font-size="8.2" dy="-7.6">3</tspan></text>
<text x="103.25" y="440.90" font-size="11.5" text-anchor="middle" fill="#000" font-weight="normal" stroke="#000" stroke-width="0.18" >Period (s)</text>
<line x1="21.4" y1="341.60" x2="183.7" y2="341.60" stroke="#808080" stroke-width="1.2" stroke-dasharray="3.8 4.1" stroke-dashoffset="-1.4"/>
<ellipse cx="38.79" cy="307.50" rx="1.8" ry="0.8" fill="#ff1010"/>
<ellipse cx="38.79" cy="361.60" rx="1.8" ry="0.8" fill="#1010ff"/>
<ellipse cx="47.73" cy="307.10" rx="1.8" ry="0.8" fill="#ff1010"/>
<ellipse cx="47.73" cy="362.00" rx="1.8" ry="0.8" fill="#1010ff"/>
<ellipse cx="56.90" cy="306.70" rx="1.8" ry="0.8" fill="#ff1010"/>
<ellipse cx="56.90" cy="362.50" rx="1.8" ry="0.8" fill="#1010ff"/>
<ellipse cx="64.74" cy="306.60" rx="1.8" ry="0.8" fill="#ff1010"/>
<ellipse cx="64.74" cy="362.70" rx="1.8" ry="0.8" fill="#1010ff"/>
<ellipse cx="72.98" cy="306.60" rx="1.8" ry="0.8" fill="#ff1010"/>
<ellipse cx="72.98" cy="363.00" rx="1.8" ry="0.8" fill="#1010ff"/>
<ellipse cx="81.99" cy="306.40" rx="1.8" ry="0.8" fill="#ff1010"/>
<ellipse cx="81.99" cy="363.00" rx="1.8" ry="0.8" fill="#1010ff"/>
<ellipse cx="91.23" cy="306.40" rx="1.8" ry="0.8" fill="#ff1010"/>
<ellipse cx="91.23" cy="363.00" rx="1.8" ry="0.8" fill="#1010ff"/>
<ellipse cx="98.87" cy="306.40" rx="1.8" ry="0.8" fill="#ff1010"/>
<ellipse cx="98.87" cy="362.50" rx="1.8" ry="0.8" fill="#1010ff"/>
<ellipse cx="107.04" cy="306.40" rx="1.8" ry="0.8" fill="#ff1010"/>
<ellipse cx="107.04" cy="362.00" rx="1.8" ry="0.8" fill="#1010ff"/>
<ellipse cx="115.85" cy="306.60" rx="1.8" ry="0.8" fill="#ff1010"/>
<ellipse cx="115.85" cy="360.20" rx="1.8" ry="0.8" fill="#1010ff"/>
<ellipse cx="125.29" cy="306.60" rx="1.8" ry="0.8" fill="#ff1010"/>
<ellipse cx="125.29" cy="358.40" rx="1.8" ry="0.8" fill="#1010ff"/>
<ellipse cx="132.86" cy="306.60" rx="1.8" ry="0.8" fill="#ff1010"/>
<ellipse cx="132.86" cy="354.40" rx="1.8" ry="0.8" fill="#1010ff"/>
<ellipse cx="141.10" cy="306.60" rx="1.8" ry="0.8" fill="#ff1010"/>
<ellipse cx="141.10" cy="352.50" rx="1.8" ry="0.8" fill="#1010ff"/>
<ellipse cx="149.81" cy="307.10" rx="1.8" ry="0.8" fill="#ff1010"/>
<ellipse cx="149.81" cy="350.30" rx="1.8" ry="0.8" fill="#1010ff"/>
<text x="29.30" y="295.20" font-size="16.5" text-anchor="start" fill="#000" font-weight="bold"  >(c)</text>
<text x="161.5" y="305.6" font-size="14" fill="#ff0000" font-family="Liberation Serif, serif">α</text>
<text x="168.20" y="311.00" font-size="8.6" text-anchor="start" fill="#ff0000" font-weight="normal" stroke="#ff0000" stroke-width="0.18" >x</text>
<text x="161.5" y="349.4" font-size="14" fill="#0000ff" font-family="Liberation Serif, serif">α</text>
<text x="168.20" y="353.80" font-size="8.6" text-anchor="start" fill="#0000ff" font-weight="normal" stroke="#0000ff" stroke-width="0.18" >y</text>
<line x1="215.49" y1="405.30" x2="215.49" y2="403.60" stroke="#222" stroke-width="0.8" />
<line x1="215.49" y1="278.20" x2="215.49" y2="279.90" stroke="#222" stroke-width="0.8" />
<line x1="218.77" y1="405.30" x2="218.77" y2="403.60" stroke="#222" stroke-width="0.8" />
<line x1="218.77" y1="278.20" x2="218.77" y2="279.90" stroke="#222" stroke-width="0.8" />
<line x1="221.67" y1="405.30" x2="221.67" y2="403.60" stroke="#222" stroke-width="0.8" />
<line x1="221.67" y1="278.20" x2="221.67" y2="279.90" stroke="#222" stroke-width="0.8" />
<line x1="224.27" y1="405.30" x2="224.27" y2="402.10" stroke="#222" stroke-width="0.8" />
<line x1="224.27" y1="278.20" x2="224.27" y2="281.40" stroke="#222" stroke-width="0.8" />
<line x1="241.34" y1="405.30" x2="241.34" y2="403.60" stroke="#222" stroke-width="0.8" />
<line x1="241.34" y1="278.20" x2="241.34" y2="279.90" stroke="#222" stroke-width="0.8" />
<line x1="251.32" y1="405.30" x2="251.32" y2="403.60" stroke="#222" stroke-width="0.8" />
<line x1="251.32" y1="278.20" x2="251.32" y2="279.90" stroke="#222" stroke-width="0.8" />
<line x1="258.41" y1="405.30" x2="258.41" y2="403.60" stroke="#222" stroke-width="0.8" />
<line x1="258.41" y1="278.20" x2="258.41" y2="279.90" stroke="#222" stroke-width="0.8" />
<line x1="263.90" y1="405.30" x2="263.90" y2="403.60" stroke="#222" stroke-width="0.8" />
<line x1="263.90" y1="278.20" x2="263.90" y2="279.90" stroke="#222" stroke-width="0.8" />
<line x1="268.39" y1="405.30" x2="268.39" y2="403.60" stroke="#222" stroke-width="0.8" />
<line x1="268.39" y1="278.20" x2="268.39" y2="279.90" stroke="#222" stroke-width="0.8" />
<line x1="272.19" y1="405.30" x2="272.19" y2="403.60" stroke="#222" stroke-width="0.8" />
<line x1="272.19" y1="278.20" x2="272.19" y2="279.90" stroke="#222" stroke-width="0.8" />
<line x1="275.47" y1="405.30" x2="275.47" y2="403.60" stroke="#222" stroke-width="0.8" />
<line x1="275.47" y1="278.20" x2="275.47" y2="279.90" stroke="#222" stroke-width="0.8" />
<line x1="278.37" y1="405.30" x2="278.37" y2="403.60" stroke="#222" stroke-width="0.8" />
<line x1="278.37" y1="278.20" x2="278.37" y2="279.90" stroke="#222" stroke-width="0.8" />
<line x1="280.97" y1="405.30" x2="280.97" y2="402.10" stroke="#222" stroke-width="0.8" />
<line x1="280.97" y1="278.20" x2="280.97" y2="281.40" stroke="#222" stroke-width="0.8" />
<line x1="298.04" y1="405.30" x2="298.04" y2="403.60" stroke="#222" stroke-width="0.8" />
<line x1="298.04" y1="278.20" x2="298.04" y2="279.90" stroke="#222" stroke-width="0.8" />
<line x1="308.02" y1="405.30" x2="308.02" y2="403.60" stroke="#222" stroke-width="0.8" />
<line x1="308.02" y1="278.20" x2="308.02" y2="279.90" stroke="#222" stroke-width="0.8" />
<line x1="315.11" y1="405.30" x2="315.11" y2="403.60" stroke="#222" stroke-width="0.8" />
<line x1="315.11" y1="278.20" x2="315.11" y2="279.90" stroke="#222" stroke-width="0.8" />
<line x1="320.60" y1="405.30" x2="320.60" y2="403.60" stroke="#222" stroke-width="0.8" />
<line x1="320.60" y1="278.20" x2="320.60" y2="279.90" stroke="#222" stroke-width="0.8" />
<line x1="325.09" y1="405.30" x2="325.09" y2="403.60" stroke="#222" stroke-width="0.8" />
<line x1="325.09" y1="278.20" x2="325.09" y2="279.90" stroke="#222" stroke-width="0.8" />
<line x1="328.89" y1="405.30" x2="328.89" y2="403.60" stroke="#222" stroke-width="0.8" />
<line x1="328.89" y1="278.20" x2="328.89" y2="279.90" stroke="#222" stroke-width="0.8" />
<line x1="332.17" y1="405.30" x2="332.17" y2="403.60" stroke="#222" stroke-width="0.8" />
<line x1="332.17" y1="278.20" x2="332.17" y2="279.90" stroke="#222" stroke-width="0.8" />
<line x1="335.07" y1="405.30" x2="335.07" y2="403.60" stroke="#222" stroke-width="0.8" />
<line x1="335.07" y1="278.20" x2="335.07" y2="279.90" stroke="#222" stroke-width="0.8" />
<line x1="337.67" y1="405.30" x2="337.67" y2="402.10" stroke="#222" stroke-width="0.8" />
<line x1="337.67" y1="278.20" x2="337.67" y2="281.40" stroke="#222" stroke-width="0.8" />
<line x1="354.74" y1="405.30" x2="354.74" y2="403.60" stroke="#222" stroke-width="0.8" />
<line x1="354.74" y1="278.20" x2="354.74" y2="279.90" stroke="#222" stroke-width="0.8" />
<line x1="364.72" y1="405.30" x2="364.72" y2="403.60" stroke="#222" stroke-width="0.8" />
<line x1="364.72" y1="278.20" x2="364.72" y2="279.90" stroke="#222" stroke-width="0.8" />
<line x1="371.81" y1="405.30" x2="371.81" y2="403.60" stroke="#222" stroke-width="0.8" />
<line x1="371.81" y1="278.20" x2="371.81" y2="279.90" stroke="#222" stroke-width="0.8" />
<line x1="214.70" y1="278.05" x2="217.50" y2="278.05" stroke="#222" stroke-width="0.8" />
<line x1="377.30" y1="278.05" x2="374.50" y2="278.05" stroke="#222" stroke-width="0.8" />
<line x1="214.70" y1="288.64" x2="217.50" y2="288.64" stroke="#222" stroke-width="0.8" />
<line x1="377.30" y1="288.64" x2="374.50" y2="288.64" stroke="#222" stroke-width="0.8" />
<line x1="214.70" y1="299.23" x2="217.50" y2="299.23" stroke="#222" stroke-width="0.8" />
<line x1="377.30" y1="299.23" x2="374.50" y2="299.23" stroke="#222" stroke-width="0.8" />
<line x1="214.70" y1="309.83" x2="217.50" y2="309.83" stroke="#222" stroke-width="0.8" />
<line x1="377.30" y1="309.83" x2="374.50" y2="309.83" stroke="#222" stroke-width="0.8" />
<line x1="214.70" y1="320.42" x2="217.50" y2="320.42" stroke="#222" stroke-width="0.8" />
<line x1="377.30" y1="320.42" x2="374.50" y2="320.42" stroke="#222" stroke-width="0.8" />
<line x1="214.70" y1="331.01" x2="217.50" y2="331.01" stroke="#222" stroke-width="0.8" />
<line x1="377.30" y1="331.01" x2="374.50" y2="331.01" stroke="#222" stroke-width="0.8" />
<line x1="214.70" y1="341.60" x2="217.50" y2="341.60" stroke="#222" stroke-width="0.8" />
<line x1="377.30" y1="341.60" x2="374.50" y2="341.60" stroke="#222" stroke-width="0.8" />
<line x1="214.70" y1="352.19" x2="217.50" y2="352.19" stroke="#222" stroke-width="0.8" />
<line x1="377.30" y1="352.19" x2="374.50" y2="352.19" stroke="#222" stroke-width="0.8" />
<line x1="214.70" y1="362.78" x2="217.50" y2="362.78" stroke="#222" stroke-width="0.8" />
<line x1="377.30" y1="362.78" x2="374.50" y2="362.78" stroke="#222" stroke-width="0.8" />
<line x1="214.70" y1="373.38" x2="217.50" y2="373.38" stroke="#222" stroke-width="0.8" />
<line x1="377.30" y1="373.38" x2="374.50" y2="373.38" stroke="#222" stroke-width="0.8" />
<line x1="214.70" y1="383.97" x2="217.50" y2="383.97" stroke="#222" stroke-width="0.8" />
<line x1="377.30" y1="383.97" x2="374.50" y2="383.97" stroke="#222" stroke-width="0.8" />
<line x1="214.70" y1="394.56" x2="217.50" y2="394.56" stroke="#222" stroke-width="0.8" />
<line x1="377.30" y1="394.56" x2="374.50" y2="394.56" stroke="#222" stroke-width="0.8" />
<line x1="214.70" y1="405.15" x2="217.50" y2="405.15" stroke="#222" stroke-width="0.8" />
<line x1="377.30" y1="405.15" x2="374.50" y2="405.15" stroke="#222" stroke-width="0.8" />
<rect x="214.70" y="278.20" width="162.60" height="127.10" fill="none" stroke="#444" stroke-width="0.9" />
<text x="212.30" y="282.65" font-size="11.6" text-anchor="end" fill="#000" font-weight="normal" stroke="#000" stroke-width="0.18" >90</text>
<text x="212.30" y="293.24" font-size="11.6" text-anchor="end" fill="#000" font-weight="normal" stroke="#000" stroke-width="0.18" >75</text>
<text x="212.30" y="303.83" font-size="11.6" text-anchor="end" fill="#000" font-weight="normal" stroke="#000" stroke-width="0.18" >60</text>
<text x="212.30" y="314.43" font-size="11.6" text-anchor="end" fill="#000" font-weight="normal" stroke="#000" stroke-width="0.18" >45</text>
<text x="212.30" y="325.02" font-size="11.6" text-anchor="end" fill="#000" font-weight="normal" stroke="#000" stroke-width="0.18" >30</text>
<text x="212.30" y="335.61" font-size="11.6" text-anchor="end" fill="#000" font-weight="normal" stroke="#000" stroke-width="0.18" >15</text>
<text x="212.30" y="346.20" font-size="11.6" text-anchor="end" fill="#000" font-weight="normal" stroke="#000" stroke-width="0.18" >0</text>
<text x="212.30" y="356.79" font-size="11.6" text-anchor="end" fill="#000" font-weight="normal" stroke="#000" stroke-width="0.18" >−15</text>
<text x="212.30" y="367.38" font-size="11.6" text-anchor="end" fill="#000" font-weight="normal" stroke="#000" stroke-width="0.18" >−30</text>
<text x="212.30" y="377.98" font-size="11.6" text-anchor="end" fill="#000" font-weight="normal" stroke="#000" stroke-width="0.18" >−45</text>
<text x="212.30" y="388.57" font-size="11.6" text-anchor="end" fill="#000" font-weight="normal" stroke="#000" stroke-width="0.18" >−60</text>
<text x="212.30" y="399.16" font-size="11.6" text-anchor="end" fill="#000" font-weight="normal" stroke="#000" stroke-width="0.18" >−75</text>
<text x="212.30" y="409.75" font-size="11.6" text-anchor="end" fill="#000" font-weight="normal" stroke="#000" stroke-width="0.18" >−90</text>
<text x="224.27" y="423.60" font-size="12.0" text-anchor="middle">10<tspan font-size="8.2" dy="-7.6">1</tspan></text>
<text x="280.97" y="423.60" font-size="12.0" text-anchor="middle">10<tspan font-size="8.2" dy="-7.6">2</tspan></text>
<text x="337.67" y="423.60" font-size="12.0" text-anchor="middle">10<tspan font-size="8.2" dy="-7.6">3</tspan></text>
<text x="296.70" y="440.90" font-size="11.5" text-anchor="middle" fill="#000" font-weight="normal" stroke="#000" stroke-width="0.18" >Period (s)</text>
<line x1="214.7" y1="341.60" x2="377.3" y2="341.60" stroke="#808080" stroke-width="1.2" stroke-dasharray="3.6 4.3" stroke-dashoffset="-3.2"/>
<polyline points="230.20,301.60 232.50,299.40 240.53,299.40 249.70,299.42 257.54,299.44 265.78,299.46 274.79,299.48 284.03,299.50 291.67,299.52 299.84,299.54 308.65,299.56 318.09,299.58 325.66,299.60 333.90,299.62 342.61,299.64 345.00,299.60" fill="none" stroke="#ff0000" stroke-width="1.3"/>
<polyline points="230.20,356.40 231.59,356.70 240.53,356.77 249.70,356.84 257.54,356.91 265.78,356.98 274.79,357.05 284.03,357.12 291.67,357.19 299.84,357.26 308.65,357.33 318.09,357.40 325.66,357.47 333.90,357.54 342.61,357.61 345.00,357.60" fill="none" stroke="#0000ff" stroke-width="1.3"/>
<ellipse cx="231.59" cy="300.20" rx="1.5" ry="0.8" fill="#e00000"/>
<ellipse cx="231.59" cy="356.90" rx="1.6" ry="0.85" fill="#0000c8"/>
<ellipse cx="240.53" cy="300.20" rx="1.5" ry="0.8" fill="#e00000"/>
<ellipse cx="240.53" cy="357.00" rx="1.6" ry="0.85" fill="#0000c8"/>
<ellipse cx="249.70" cy="300.20" rx="1.5" ry="0.8" fill="#e00000"/>
<ellipse cx="249.70" cy="357.10" rx="1.6" ry="0.85" fill="#0000c8"/>
<ellipse cx="257.54" cy="300.20" rx="1.5" ry="0.8" fill="#e00000"/>
<ellipse cx="257.54" cy="357.20" rx="1.6" ry="0.85" fill="#0000c8"/>
<ellipse cx="265.78" cy="300.20" rx="1.5" ry="0.8" fill="#e00000"/>
<ellipse cx="265.78" cy="357.30" rx="1.6" ry="0.85" fill="#0000c8"/>
<ellipse cx="274.79" cy="300.20" rx="1.5" ry="0.8" fill="#e00000"/>
<ellipse cx="274.79" cy="357.40" rx="1.6" ry="0.85" fill="#0000c8"/>
<ellipse cx="284.03" cy="300.20" rx="1.5" ry="0.8" fill="#e00000"/>
<ellipse cx="284.03" cy="357.50" rx="1.6" ry="0.85" fill="#0000c8"/>
<ellipse cx="291.67" cy="300.20" rx="1.5" ry="0.8" fill="#e00000"/>
<ellipse cx="291.67" cy="357.60" rx="1.6" ry="0.85" fill="#0000c8"/>
<ellipse cx="299.84" cy="300.20" rx="1.5" ry="0.8" fill="#e00000"/>
<ellipse cx="299.84" cy="357.70" rx="1.6" ry="0.85" fill="#0000c8"/>
<ellipse cx="308.65" cy="300.20" rx="1.5" ry="0.8" fill="#e00000"/>
<ellipse cx="308.65" cy="357.80" rx="1.6" ry="0.85" fill="#0000c8"/>
<ellipse cx="318.09" cy="300.20" rx="1.5" ry="0.8" fill="#e00000"/>
<ellipse cx="318.09" cy="357.90" rx="1.6" ry="0.85" fill="#0000c8"/>
<ellipse cx="325.66" cy="300.20" rx="1.5" ry="0.8" fill="#e00000"/>
<ellipse cx="325.66" cy="358.00" rx="1.6" ry="0.85" fill="#0000c8"/>
<ellipse cx="333.90" cy="300.20" rx="1.5" ry="0.8" fill="#e00000"/>
<ellipse cx="333.90" cy="358.10" rx="1.6" ry="0.85" fill="#0000c8"/>
<ellipse cx="342.61" cy="300.20" rx="1.5" ry="0.8" fill="#e00000"/>
<ellipse cx="342.61" cy="358.20" rx="1.6" ry="0.85" fill="#0000c8"/>
<text x="219.90" y="295.20" font-size="16.5" text-anchor="start" fill="#000" font-weight="bold"  >(d)</text>
<text x="351.1" y="299.8" font-size="14" fill="#ff0000" font-family="Liberation Serif, serif">α</text>
<text x="357.70" y="303.90" font-size="8.6" text-anchor="start" fill="#ff0000" font-weight="normal" stroke="#ff0000" stroke-width="0.18" >x</text>
<text x="351.0" y="357.8" font-size="14" fill="#0000ff" font-family="Liberation Serif, serif">α</text>
<text x="357.20" y="361.10" font-size="8.6" text-anchor="start" fill="#0000ff" font-weight="normal" stroke="#0000ff" stroke-width="0.18" >y</text>
<text x="223.6" y="393.0" font-size="12" font-family="Liberation Serif, serif">θ</text>
<text x="229.40" y="398.40" font-size="9.2" text-anchor="start" fill="#000" font-weight="normal" stroke="#000" stroke-width="0.18" >o</text>
<text x="237.20" y="392.80" font-size="11.0" text-anchor="start" fill="#000" font-weight="normal" stroke="#000" stroke-width="0.18" >= −10.4</text>
<text x="275.60" y="388.40" font-size="8.6" text-anchor="start" fill="#000" font-weight="normal" stroke="#000" stroke-width="0.18" >o</text>
<line x1="404.29" y1="405.30" x2="404.29" y2="403.60" stroke="#222" stroke-width="0.8" />
<line x1="404.29" y1="278.20" x2="404.29" y2="279.90" stroke="#222" stroke-width="0.8" />
<line x1="407.57" y1="405.30" x2="407.57" y2="403.60" stroke="#222" stroke-width="0.8" />
<line x1="407.57" y1="278.20" x2="407.57" y2="279.90" stroke="#222" stroke-width="0.8" />
<line x1="410.47" y1="405.30" x2="410.47" y2="403.60" stroke="#222" stroke-width="0.8" />
<line x1="410.47" y1="278.20" x2="410.47" y2="279.90" stroke="#222" stroke-width="0.8" />
<line x1="413.07" y1="405.30" x2="413.07" y2="402.10" stroke="#222" stroke-width="0.8" />
<line x1="413.07" y1="278.20" x2="413.07" y2="281.40" stroke="#222" stroke-width="0.8" />
<line x1="430.14" y1="405.30" x2="430.14" y2="403.60" stroke="#222" stroke-width="0.8" />
<line x1="430.14" y1="278.20" x2="430.14" y2="279.90" stroke="#222" stroke-width="0.8" />
<line x1="440.12" y1="405.30" x2="440.12" y2="403.60" stroke="#222" stroke-width="0.8" />
<line x1="440.12" y1="278.20" x2="440.12" y2="279.90" stroke="#222" stroke-width="0.8" />
<line x1="447.21" y1="405.30" x2="447.21" y2="403.60" stroke="#222" stroke-width="0.8" />
<line x1="447.21" y1="278.20" x2="447.21" y2="279.90" stroke="#222" stroke-width="0.8" />
<line x1="452.70" y1="405.30" x2="452.70" y2="403.60" stroke="#222" stroke-width="0.8" />
<line x1="452.70" y1="278.20" x2="452.70" y2="279.90" stroke="#222" stroke-width="0.8" />
<line x1="457.19" y1="405.30" x2="457.19" y2="403.60" stroke="#222" stroke-width="0.8" />
<line x1="457.19" y1="278.20" x2="457.19" y2="279.90" stroke="#222" stroke-width="0.8" />
<line x1="460.99" y1="405.30" x2="460.99" y2="403.60" stroke="#222" stroke-width="0.8" />
<line x1="460.99" y1="278.20" x2="460.99" y2="279.90" stroke="#222" stroke-width="0.8" />
<line x1="464.27" y1="405.30" x2="464.27" y2="403.60" stroke="#222" stroke-width="0.8" />
<line x1="464.27" y1="278.20" x2="464.27" y2="279.90" stroke="#222" stroke-width="0.8" />
<line x1="467.17" y1="405.30" x2="467.17" y2="403.60" stroke="#222" stroke-width="0.8" />
<line x1="467.17" y1="278.20" x2="467.17" y2="279.90" stroke="#222" stroke-width="0.8" />
<line x1="469.77" y1="405.30" x2="469.77" y2="402.10" stroke="#222" stroke-width="0.8" />
<line x1="469.77" y1="278.20" x2="469.77" y2="281.40" stroke="#222" stroke-width="0.8" />
<line x1="486.84" y1="405.30" x2="486.84" y2="403.60" stroke="#222" stroke-width="0.8" />
<line x1="486.84" y1="278.20" x2="486.84" y2="279.90" stroke="#222" stroke-width="0.8" />
<line x1="496.82" y1="405.30" x2="496.82" y2="403.60" stroke="#222" stroke-width="0.8" />
<line x1="496.82" y1="278.20" x2="496.82" y2="279.90" stroke="#222" stroke-width="0.8" />
<line x1="503.91" y1="405.30" x2="503.91" y2="403.60" stroke="#222" stroke-width="0.8" />
<line x1="503.91" y1="278.20" x2="503.91" y2="279.90" stroke="#222" stroke-width="0.8" />
<line x1="509.40" y1="405.30" x2="509.40" y2="403.60" stroke="#222" stroke-width="0.8" />
<line x1="509.40" y1="278.20" x2="509.40" y2="279.90" stroke="#222" stroke-width="0.8" />
<line x1="513.89" y1="405.30" x2="513.89" y2="403.60" stroke="#222" stroke-width="0.8" />
<line x1="513.89" y1="278.20" x2="513.89" y2="279.90" stroke="#222" stroke-width="0.8" />
<line x1="517.69" y1="405.30" x2="517.69" y2="403.60" stroke="#222" stroke-width="0.8" />
<line x1="517.69" y1="278.20" x2="517.69" y2="279.90" stroke="#222" stroke-width="0.8" />
<line x1="520.97" y1="405.30" x2="520.97" y2="403.60" stroke="#222" stroke-width="0.8" />
<line x1="520.97" y1="278.20" x2="520.97" y2="279.90" stroke="#222" stroke-width="0.8" />
<line x1="523.87" y1="405.30" x2="523.87" y2="403.60" stroke="#222" stroke-width="0.8" />
<line x1="523.87" y1="278.20" x2="523.87" y2="279.90" stroke="#222" stroke-width="0.8" />
<line x1="526.47" y1="405.30" x2="526.47" y2="402.10" stroke="#222" stroke-width="0.8" />
<line x1="526.47" y1="278.20" x2="526.47" y2="281.40" stroke="#222" stroke-width="0.8" />
<line x1="543.54" y1="405.30" x2="543.54" y2="403.60" stroke="#222" stroke-width="0.8" />
<line x1="543.54" y1="278.20" x2="543.54" y2="279.90" stroke="#222" stroke-width="0.8" />
<line x1="553.52" y1="405.30" x2="553.52" y2="403.60" stroke="#222" stroke-width="0.8" />
<line x1="553.52" y1="278.20" x2="553.52" y2="279.90" stroke="#222" stroke-width="0.8" />
<line x1="560.61" y1="405.30" x2="560.61" y2="403.60" stroke="#222" stroke-width="0.8" />
<line x1="560.61" y1="278.20" x2="560.61" y2="279.90" stroke="#222" stroke-width="0.8" />
<line x1="403.50" y1="379.88" x2="406.30" y2="379.88" stroke="#222" stroke-width="0.8" />
<line x1="566.10" y1="379.88" x2="563.30" y2="379.88" stroke="#222" stroke-width="0.8" />
<line x1="403.50" y1="354.46" x2="406.30" y2="354.46" stroke="#222" stroke-width="0.8" />
<line x1="566.10" y1="354.46" x2="563.30" y2="354.46" stroke="#222" stroke-width="0.8" />
<line x1="403.50" y1="329.04" x2="406.30" y2="329.04" stroke="#222" stroke-width="0.8" />
<line x1="566.10" y1="329.04" x2="563.30" y2="329.04" stroke="#222" stroke-width="0.8" />
<line x1="403.50" y1="303.62" x2="406.30" y2="303.62" stroke="#222" stroke-width="0.8" />
<line x1="566.10" y1="303.62" x2="563.30" y2="303.62" stroke="#222" stroke-width="0.8" />
<rect x="403.50" y="278.20" width="162.60" height="127.10" fill="none" stroke="#444" stroke-width="0.9" />
<text x="401.10" y="282.80" font-size="11.6" text-anchor="end" fill="#000" font-weight="normal" stroke="#000" stroke-width="0.18" >1</text>
<text x="401.10" y="308.22" font-size="11.6" text-anchor="end" fill="#000" font-weight="normal" stroke="#000" stroke-width="0.18" >0.8</text>
<text x="401.10" y="333.64" font-size="11.6" text-anchor="end" fill="#000" font-weight="normal" stroke="#000" stroke-width="0.18" >0.6</text>
<text x="401.10" y="359.06" font-size="11.6" text-anchor="end" fill="#000" font-weight="normal" stroke="#000" stroke-width="0.18" >0.4</text>
<text x="401.10" y="384.48" font-size="11.6" text-anchor="end" fill="#000" font-weight="normal" stroke="#000" stroke-width="0.18" >0.2</text>
<text x="401.10" y="409.90" font-size="11.6" text-anchor="end" fill="#000" font-weight="normal" stroke="#000" stroke-width="0.18" >0</text>
<text x="413.07" y="423.60" font-size="12.0" text-anchor="middle">10<tspan font-size="8.2" dy="-7.6">1</tspan></text>
<text x="469.77" y="423.60" font-size="12.0" text-anchor="middle">10<tspan font-size="8.2" dy="-7.6">2</tspan></text>
<text x="526.47" y="423.60" font-size="12.0" text-anchor="middle">10<tspan font-size="8.2" dy="-7.6">3</tspan></text>
<text x="485.50" y="440.90" font-size="11.5" text-anchor="middle" fill="#000" font-weight="normal" stroke="#000" stroke-width="0.18" >Period (s)</text>
<rect x="418.89" y="370.00" width="3.60" height="3.60" fill="none" stroke="#000" stroke-width="0.9" />
<rect x="427.83" y="372.50" width="3.60" height="3.60" fill="none" stroke="#000" stroke-width="0.9" />
<rect x="437.00" y="375.90" width="3.60" height="3.60" fill="none" stroke="#000" stroke-width="0.9" />
<rect x="444.84" y="376.80" width="3.60" height="3.60" fill="none" stroke="#000" stroke-width="0.9" />
<rect x="453.08" y="380.50" width="3.60" height="3.60" fill="none" stroke="#000" stroke-width="0.9" />
<rect x="462.09" y="383.70" width="3.60" height="3.60" fill="none" stroke="#000" stroke-width="0.9" />
<rect x="471.33" y="389.50" width="3.60" height="3.60" fill="none" stroke="#000" stroke-width="0.9" />
<rect x="478.97" y="391.10" width="3.60" height="3.60" fill="none" stroke="#000" stroke-width="0.9" />
<rect x="487.14" y="398.50" width="3.60" height="3.60" fill="none" stroke="#000" stroke-width="0.9" />
<rect x="495.95" y="403.20" width="3.60" height="3.60" fill="none" stroke="#000" stroke-width="0.9" />
<rect x="505.39" y="403.20" width="3.60" height="3.60" fill="none" stroke="#000" stroke-width="0.9" />
<rect x="512.96" y="395.30" width="3.60" height="3.60" fill="none" stroke="#000" stroke-width="0.9" />
<rect x="521.20" y="391.50" width="3.60" height="3.60" fill="none" stroke="#000" stroke-width="0.9" />
<rect x="529.91" y="400.10" width="3.60" height="3.60" fill="none" stroke="#000" stroke-width="0.9" />
<polygon points="420.69,390.40 422.89,393.10 420.69,395.80 418.49,393.10" fill="none" stroke="#000" stroke-width="0.9" />
<polygon points="429.63,391.60 431.83,394.30 429.63,397.00 427.43,394.30" fill="none" stroke="#000" stroke-width="0.9" />
<polygon points="438.80,394.30 441.00,397.00 438.80,399.70 436.60,397.00" fill="none" stroke="#000" stroke-width="0.9" />
<polygon points="446.64,397.60 448.84,400.30 446.64,403.00 444.44,400.30" fill="none" stroke="#000" stroke-width="0.9" />
<polygon points="454.88,400.60 457.08,403.30 454.88,406.00 452.68,403.30" fill="none" stroke="#000" stroke-width="0.9" />
<polygon points="463.89,400.60 466.09,403.30 463.89,406.00 461.69,403.30" fill="none" stroke="#000" stroke-width="0.9" />
<polygon points="473.13,396.90 475.33,399.60 473.13,402.30 470.93,399.60" fill="none" stroke="#000" stroke-width="0.9" />
<polygon points="480.77,392.20 482.97,394.90 480.77,397.60 478.57,394.90" fill="none" stroke="#000" stroke-width="0.9" />
<polygon points="488.94,392.20 491.14,394.90 488.94,397.60 486.74,394.90" fill="none" stroke="#000" stroke-width="0.9" />
<polygon points="497.75,390.20 499.95,392.90 497.75,395.60 495.55,392.90" fill="none" stroke="#000" stroke-width="0.9" />
<polygon points="507.19,390.90 509.39,393.60 507.19,396.30 504.99,393.60" fill="none" stroke="#000" stroke-width="0.9" />
<polygon points="514.76,392.20 516.96,394.90 514.76,397.60 512.56,394.90" fill="none" stroke="#000" stroke-width="0.9" />
<polygon points="523.00,393.80 525.20,396.50 523.00,399.20 520.80,396.50" fill="none" stroke="#000" stroke-width="0.9" />
<polygon points="531.71,398.00 533.91,400.70 531.71,403.40 529.51,400.70" fill="none" stroke="#000" stroke-width="0.9" />
<polygon points="420.69,376.70 423.09,379.70 420.69,382.70 418.29,379.70" fill="#ff0000" stroke="none" stroke-width="0" />
<polygon points="429.63,378.90 432.03,381.90 429.63,384.90 427.23,381.90" fill="#ff0000" stroke="none" stroke-width="0" />
<polygon points="438.80,383.80 441.20,386.80 438.80,389.80 436.40,386.80" fill="#ff0000" stroke="none" stroke-width="0" />
<polygon points="446.64,387.70 449.04,390.70 446.64,393.70 444.24,390.70" fill="#ff0000" stroke="none" stroke-width="0" />
<polygon points="454.88,390.10 457.28,393.10 454.88,396.10 452.48,393.10" fill="#ff0000" stroke="none" stroke-width="0" />
<polygon points="463.89,392.20 466.29,395.20 463.89,398.20 461.49,395.20" fill="#ff0000" stroke="none" stroke-width="0" />
<polygon points="473.13,393.80 475.53,396.80 473.13,399.80 470.73,396.80" fill="#ff0000" stroke="none" stroke-width="0" />
<polygon points="480.77,395.40 483.17,398.40 480.77,401.40 478.37,398.40" fill="#ff0000" stroke="none" stroke-width="0" />
<polygon points="488.94,396.60 491.34,399.60 488.94,402.60 486.54,399.60" fill="#ff0000" stroke="none" stroke-width="0" />
<polygon points="497.75,397.00 500.15,400.00 497.75,403.00 495.35,400.00" fill="#ff0000" stroke="none" stroke-width="0" />
<polygon points="507.19,397.40 509.59,400.40 507.19,403.40 504.79,400.40" fill="#ff0000" stroke="none" stroke-width="0" />
<polygon points="514.76,397.70 517.16,400.70 514.76,403.70 512.36,400.70" fill="#ff0000" stroke="none" stroke-width="0" />
<polygon points="523.00,399.80 525.40,402.80 523.00,405.80 520.60,402.80" fill="#ff0000" stroke="none" stroke-width="0" />
<polygon points="531.71,399.30 534.11,402.30 531.71,405.30 529.31,402.30" fill="#ff0000" stroke="none" stroke-width="0" />
<rect x="418.69" y="348.70" width="4.00" height="4.00" fill="#0000ff" stroke="none" stroke-width="0" />
<rect x="427.63" y="355.00" width="4.00" height="4.00" fill="#0000ff" stroke="none" stroke-width="0" />
<rect x="436.80" y="363.30" width="4.00" height="4.00" fill="#0000ff" stroke="none" stroke-width="0" />
<rect x="444.64" y="366.20" width="4.00" height="4.00" fill="#0000ff" stroke="none" stroke-width="0" />
<rect x="452.88" y="370.70" width="4.00" height="4.00" fill="#0000ff" stroke="none" stroke-width="0" />
<rect x="461.89" y="372.70" width="4.00" height="4.00" fill="#0000ff" stroke="none" stroke-width="0" />
<rect x="471.13" y="375.40" width="4.00" height="4.00" fill="#0000ff" stroke="none" stroke-width="0" />
<rect x="478.77" y="373.80" width="4.00" height="4.00" fill="#0000ff" stroke="none" stroke-width="0" />
<rect x="486.94" y="379.80" width="4.00" height="4.00" fill="#0000ff" stroke="none" stroke-width="0" />
<rect x="495.75" y="379.30" width="4.00" height="4.00" fill="#0000ff" stroke="none" stroke-width="0" />
<rect x="505.19" y="381.90" width="4.00" height="4.00" fill="#0000ff" stroke="none" stroke-width="0" />
<rect x="512.76" y="375.60" width="4.00" height="4.00" fill="#0000ff" stroke="none" stroke-width="0" />
<rect x="521.00" y="378.70" width="4.00" height="4.00" fill="#0000ff" stroke="none" stroke-width="0" />
<rect x="529.71" y="389.30" width="4.00" height="4.00" fill="#0000ff" stroke="none" stroke-width="0" />
<text x="407.60" y="295.20" font-size="16.5" text-anchor="start" fill="#000" font-weight="bold"  >(e)</text>
<polygon points="492.00,292.10 494.00,294.60 492.00,297.10 490.00,294.60" fill="none" stroke="#000" stroke-width="0.9" />
<polygon points="503.50,291.60 505.90,294.60 503.50,297.60 501.10,294.60" fill="#ff0000" stroke="none" stroke-width="0" />
<rect x="490.30" y="311.30" width="3.40" height="3.40" fill="none" stroke="#000" stroke-width="0.9" />
<rect x="501.80" y="311.50" width="4.00" height="4.00" fill="#0000ff" stroke="none" stroke-width="0" />
<text x="513.6" y="297.6" font-size="11.0">|Z<tspan font-size="8.7" dy="3.3">xx</tspan><tspan dy="-3.3">|/|Z</tspan><tspan font-size="8.7" dy="3.3">xy</tspan><tspan dy="-3.3">|</tspan></text>
<text x="513.6" y="316.2" font-size="11.0">|Z<tspan font-size="8.7" dy="3.3">yy</tspan><tspan dy="-3.3">|/|Z</tspan><tspan font-size="8.7" dy="3.3">yx</tspan><tspan dy="-3.3">|</tspan></text>
</svg></body></html>
